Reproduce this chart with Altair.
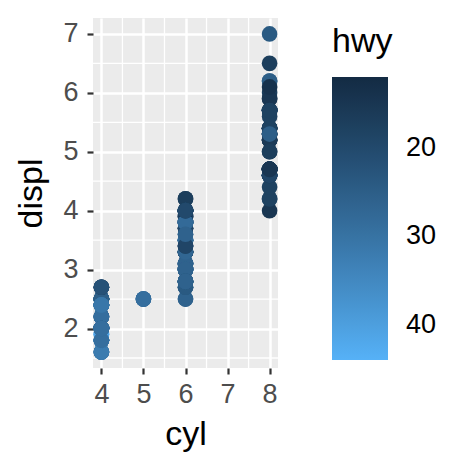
import altair as alt
import pandas as pd

# mpg dataset: displ, cyl, hwy
displ = [1.8,1.8,2.0,2.0,2.8,2.8,3.1,1.8,1.8,2.0,2.0,2.8,2.8,3.1,3.1,2.8,3.1,4.2,
         5.3,5.3,5.3,5.7,6.0,5.7,5.7,6.2,6.2,7.0,5.3,5.3,5.7,6.5,2.4,2.4,3.1,3.5,3.6,
         2.4,3.0,3.3,3.3,3.3,3.3,3.3,3.8,3.8,3.8,4.0,3.7,3.7,3.9,3.9,4.7,4.7,4.7,5.2,5.2,
         3.9,4.7,4.7,4.7,5.2,5.7,5.9,4.7,4.7,4.7,4.7,4.7,5.2,5.2,5.7,5.9,
         4.6,5.4,5.4,4.0,4.0,4.0,4.0,4.6,5.0,4.2,4.2,4.6,4.6,4.6,5.4,5.4,3.8,3.8,4.0,4.0,4.6,4.6,4.6,4.6,5.4,
         1.6,1.6,1.6,1.6,1.6,1.8,1.8,1.8,2.0,
         2.4,2.4,2.4,2.4,2.5,2.5,3.3,2.0,2.0,2.0,2.0,2.7,2.7,2.7,
         3.0,3.7,4.0,4.7,4.7,4.7,5.7,6.1,
         4.0,4.2,4.4,4.6,
         5.4,5.4,5.4,
         4.0,4.0,4.6,5.0,
         2.4,2.4,2.5,2.5,3.5,3.5,3.0,3.0,3.5,3.3,3.3,4.0,5.6,
         3.1,3.8,3.8,3.8,5.3,
         2.5,2.5,2.5,2.5,2.5,2.5,2.2,2.2,2.5,2.5,2.5,2.5,2.5,2.5,
         2.7,2.7,3.4,3.4,4.0,4.7,2.2,2.2,2.4,2.4,3.0,3.0,3.5,2.2,2.2,2.4,2.4,3.0,3.0,3.3,
         1.8,1.8,1.8,1.8,1.8,4.7,5.7,2.7,2.7,2.7,3.4,3.4,4.0,4.0,
         2.0,2.0,2.0,2.0,2.8,1.9,2.0,2.0,2.0,2.0,2.5,2.5,2.8,2.8,1.9,1.9,2.0,2.0,2.5,2.5,
         1.8,1.8,2.0,2.0,2.8,2.8,3.6]
cyl = [4,4,4,4,6,6,6,4,4,4,4,6,6,6,6,6,6,8,
       8,8,8,8,8,8,8,8,8,8,8,8,8,8,4,4,6,6,6,
       4,6,6,6,6,6,6,6,6,6,6,6,6,6,6,8,8,8,8,8,
       6,8,8,8,8,8,8,8,8,8,8,8,8,8,8,8,
       8,8,8,6,6,6,6,8,8,6,6,8,8,8,8,8,6,6,6,6,8,8,8,8,8,
       4,4,4,4,4,4,4,4,4,
       4,4,4,4,6,6,6,4,4,4,4,6,6,6,
       6,6,6,8,8,8,8,8,
       8,8,8,8,
       8,8,8,
       6,6,8,8,
       4,4,4,4,6,6,6,6,6,6,6,6,8,
       6,6,6,6,8,
       4,4,4,4,4,4,4,4,4,4,4,4,4,4,
       4,4,6,6,6,8,4,4,4,4,6,6,6,4,4,4,4,6,6,6,
       4,4,4,4,4,8,8,4,4,4,6,6,6,6,
       4,4,4,4,6,4,4,4,4,4,5,5,6,6,4,4,4,4,5,5,
       4,4,4,4,6,6,6]
hwy = [29,29,31,30,26,26,27,26,25,28,27,25,25,25,25,24,25,23,
       20,15,20,17,17,26,23,26,25,24,19,14,15,17,27,30,26,29,26,
       24,24,22,22,24,24,17,22,21,23,23,19,18,17,17,19,19,12,17,15,
       17,17,12,17,16,18,15,16,12,17,17,16,15,16,17,15,
       17,17,18,17,19,19,17,19,17,17,17,16,16,17,15,17,26,25,26,24,21,22,23,22,20,
       33,32,32,29,32,34,36,36,29,
       26,27,30,31,26,26,28,26,29,28,27,24,24,24,
       22,19,20,17,12,19,18,14,
       15,18,18,15,
       17,16,18,
       17,19,19,17,
       29,27,31,32,27,26,26,26,25,17,17,20,18,
       26,26,27,28,25,
       25,24,27,25,26,23,26,26,26,26,27,25,27,25,
       20,20,19,17,20,19,29,27,31,31,26,26,28,27,29,31,31,26,26,27,
       30,33,35,37,35,15,18,20,20,22,17,19,18,20,
       29,26,29,29,24,44,29,26,29,29,29,29,23,24,44,41,29,26,28,29,
       29,29,28,29,26,26,26]

x_major = [4, 5, 6, 7, 8]
y_major = [2, 3, 4, 5, 6, 7]
x_minor = [4.5, 5.5, 6.5, 7.5]
y_minor = [1.5, 2.5, 3.5, 4.5, 5.5, 6.5]
legend_ticks = [20, 30, 40]

df = pd.DataFrame({"displ": displ, "cyl": cyl, "hwy": hwy})

FONT = "Liberation Sans"
xscale = alt.Scale(domain=[3.8, 8.2], nice=False, zero=False)
yscale = alt.Scale(domain=[1.33, 7.27], nice=False, zero=False)

axis_common = dict(
    grid=True, gridColor="white", gridWidth=2.5, domain=False,
    tickColor="#333333", tickWidth=2.2, tickSize=6,
    labelColor="#4D4D4D", labelFontSize=27, labelFont=FONT,
    titleFont=FONT, titleFontSize=34, titleFontWeight="normal", titleColor="black",
)
xaxis = alt.Axis(values=x_major, labelPadding=7, titlePadding=10, title="cyl", **axis_common)
yaxis = alt.Axis(values=y_major, labelPadding=9, titlePadding=14, title="displ", **axis_common)

xgrid = alt.Chart(pd.DataFrame({"v": x_minor})).mark_rule(
    color="white", strokeWidth=1.3
).encode(x=alt.X("v:Q", scale=xscale, axis=xaxis))
ygrid = alt.Chart(pd.DataFrame({"v": y_minor})).mark_rule(
    color="white", strokeWidth=1.3
).encode(y=alt.Y("v:Q", scale=yscale, axis=yaxis))

points = alt.Chart(df).mark_circle(size=245, opacity=1).encode(
    x=alt.X("cyl:Q", scale=xscale, axis=xaxis),
    y=alt.Y("displ:Q", scale=yscale, axis=yaxis),
    color=alt.Color(
        "hwy:Q",
        scale=alt.Scale(domain=[44, 12], range=["#56B1F7", "#132B43"],
                        interpolate="lab", nice=False, zero=False),
        legend=alt.Legend(
            orient="none", legendX=239, legendY=7, title="hwy",
            values=legend_ticks, gradientLength=283, gradientThickness=56,
            gradientStrokeWidth=0, labelOffset=18, labelFontSize=27,
            labelFont=FONT, labelColor="black", titleFont=FONT,
            titleFontSize=34, titleFontWeight="normal", titleColor="black",
            titlePadding=18, direction="vertical",
        ),
    ),
)

chart = alt.layer(xgrid, ygrid, points).properties(
    width=185, height=350,
    autosize=alt.AutoSizeParams(type="none"),
    padding={"left": 85, "top": 10, "right": 188, "bottom": 98},
).configure_view(fill="#EBEBEB", stroke=None)

chart.save("out.html", embed_options={"renderer": "svg", "actions": False})
